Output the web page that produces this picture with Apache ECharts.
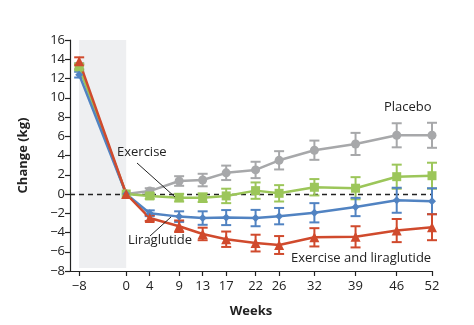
<!DOCTYPE html>
<html><head><meta charset="utf-8">
<script src="https://cdn.jsdelivr.net/npm/echarts@6/dist/echarts.min.js"></script>
<style>html,body{margin:0;padding:0;background:#fff}#c{width:474px;height:325px}</style>
</head><body><div id="c"></div>
<script>
const weeks = [-8, 0, 4, 9, 13, 17, 22, 26, 32, 39, 46, 52];
const placebo = [13.3, 0, 0.3, 1.35, 1.45, 2.2, 2.5, 3.5, 4.55, 5.2, 6.1, 6.1];
const placeboErr = [0.3, 0, 0.3, 0.5, 0.65, 0.75, 0.85, 0.95, 1.0, 1.15, 1.25, 1.3];
const exercise = [13.2, 0, -0.2, -0.38, -0.38, -0.2, 0.35, 0.07, 0.7, 0.6, 1.8, 1.9];
const exerciseErr = [0.3, 0, 0.3, 0.4, 0.45, 0.75, 0.85, 0.85, 0.85, 1.15, 1.25, 1.35];
const liraglutide = [12.4, 0, -2.0, -2.35, -2.5, -2.45, -2.5, -2.3, -1.95, -1.35, -0.65, -0.75];
const liraglutideErr = [0.3, 0, 0.3, 0.55, 0.7, 0.78, 0.85, 0.85, 1.0, 0.95, 1.3, 1.35];
const combo = [13.8, 0, -2.5, -3.35, -4.15, -4.7, -5.1, -5.3, -4.5, -4.45, -3.8, -3.45];
const comboErr = [0.4, 0, 0.3, 0.6, 0.65, 0.8, 0.87, 0.93, 0.95, 1.1, 1.2, 1.35];
const xTicks = [-8, 0, 4, 9, 13, 17, 22, 26, 32, 39, 46, 52];

const FONT = '"Open Sans", "Noto Sans", sans-serif';
const minus = v => String(v).replace('-', '\u2212');

const groups = [
  {name: 'Placebo', vals: placebo, err: placeboErr, color: '#a7a8aa', symbol: 'circle', size: 9},
  {name: 'Exercise', vals: exercise, err: exerciseErr, color: '#9cc65a', symbol: 'rect', size: 9},
  {name: 'Liraglutide', vals: liraglutide, err: liraglutideErr, color: '#5183c2', symbol: 'diamond', size: 8},
  {name: 'Exercise and liraglutide', vals: combo, err: comboErr, color: '#d04a2d', symbol: 'triangle', size: 10}
];

const series = [];
groups.forEach((g, gi) => {
  series.push({
    type: 'custom', name: g.name + ' err', z: 3,
    data: weeks.map((w, i) => [w, g.vals[i] - g.err[i], g.vals[i] + g.err[i]]).filter((d, i) => g.err[i] > 0),
    renderItem: (params, api) => {
      const lo = api.coord([api.value(0), api.value(1)]);
      const hi = api.coord([api.value(0), api.value(2)]);
      const cw = 5;
      const st = {stroke: g.color, lineWidth: 2};
      return {type: 'group', children: [
        {type: 'line', shape: {x1: lo[0], y1: lo[1], x2: hi[0], y2: hi[1]}, style: st},
        {type: 'line', shape: {x1: lo[0] - cw, y1: lo[1], x2: lo[0] + cw, y2: lo[1]}, style: st},
        {type: 'line', shape: {x1: hi[0] - cw, y1: hi[1], x2: hi[0] + cw, y2: hi[1]}, style: st}
      ]};
    },
    silent: true, animation: false
  });
  series.push({
    type: 'line', name: g.name, z: 4,
    data: weeks.map((w, i) => [w, g.vals[i]]),
    symbol: g.symbol, symbolSize: g.size,
    lineStyle: {color: g.color, width: 2.5},
    itemStyle: {color: g.color, borderWidth: 0},
    animation: false
  });
});

series[0].markArea = {
  silent: true,
  itemStyle: {color: '#eeeff1'},
  data: [[{coord: [-8, 16]}, {coord: [0, -7.7]}]]
};
series[1].markLine = {
  silent: true, symbol: 'none', z: 2,
  lineStyle: {color: '#222', type: [5, 4], width: 1.3},
  label: {show: false},
  data: [[{coord: [-9.56, 0]}, {coord: [52, 0]}]]
};

const chart = echarts.init(document.getElementById('c'), null, {renderer: 'canvas'});
chart.setOption({
  animation: false,
  grid: {left: 70, right: 42, top: 40, bottom: 54},
  xAxis: {
    type: 'value', min: -9.56, max: 52,
    name: 'Weeks', nameLocation: 'middle', nameGap: 34,
    nameTextStyle: {fontFamily: FONT, fontWeight: 'bold', fontSize: 13, color: '#222'},
    axisLine: {onZero: false, lineStyle: {color: '#222', width: 1.2}},
    axisTick: {customValues: xTicks, length: 5, lineStyle: {color: '#222', width: 1.2}},
    axisLabel: {customValues: xTicks, formatter: minus, fontFamily: FONT, fontSize: 13, color: '#222', margin: 9},
    splitLine: {show: false}
  },
  yAxis: {
    type: 'value', min: -8, max: 16, interval: 2,
    name: 'Change (kg)', nameLocation: 'middle', nameGap: 40, nameRotate: 90,
    nameTextStyle: {fontFamily: FONT, fontWeight: 'bold', fontSize: 13, color: '#222'},
    axisLine: {show: true, onZero: false, lineStyle: {color: '#222', width: 1.2}},
    axisTick: {show: true, length: 5, lineStyle: {color: '#222', width: 1.2}},
    axisLabel: {formatter: minus, fontFamily: FONT, fontSize: 13, color: '#222', margin: 5},
    splitLine: {show: false}
  },
  series: series,
  graphic: [
    {type: 'text', z: 100, left: 384, top: 101, style: {text: 'Placebo', font: '13px ' + FONT, fill: '#222'}},
    {type: 'text', z: 100, left: 117, top: 146, style: {text: 'Exercise', font: '13px ' + FONT, fill: '#222'}},
    {type: 'text', z: 100, left: 128, top: 234, style: {text: 'Liraglutide', font: '13px ' + FONT, fill: '#222'}},
    {type: 'text', z: 100, left: 291, top: 252, style: {text: 'Exercise and liraglutide', font: '13px ' + FONT, fill: '#222'}},
    {type: 'line', z: 100, shape: {x1: 137, y1: 163, x2: 175, y2: 197}, style: {stroke: '#222', lineWidth: 1}},
    {type: 'line', z: 100, shape: {x1: 150, y1: 236, x2: 171, y2: 217}, style: {stroke: '#222', lineWidth: 1}}
  ]
});
</script></body></html>
